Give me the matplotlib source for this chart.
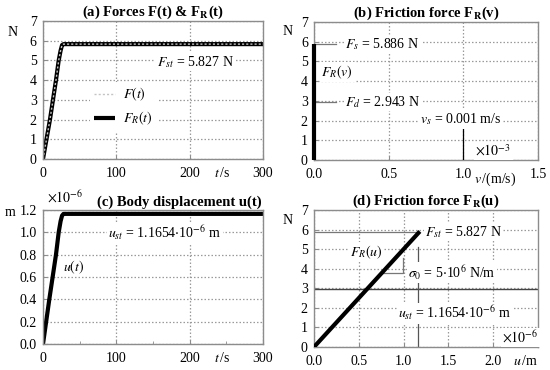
import matplotlib
matplotlib.use("Agg")
import matplotlib.pyplot as plt
import numpy as np

plt.rcParams['font.family'] = ['Liberation Serif', 'DejaVu Serif']
plt.rcParams['mathtext.fontset'] = 'stix'
plt.rcParams['font.size'] = 10

# ---- data ----
t_a = [0, 9.5, 17.7, 21.4, 24, 26, 28, 300]
F_a = [0, 2.0, 4.0, 5.0, 5.5, 5.78, 5.827, 5.827]
FR_a = [0, 2.0, 4.0, 5.0, 5.5, 5.78, 5.827, 5.827]

v_b = [0.0, 0.0]
FR_b = [0.0, 5.886]
Fs = 5.886
Fd = 2.943
vs = 0.001

t_c = [0, 8.6, 17.7, 21.4, 24, 26, 28, 300]
u_c = [0, 0.4e-6, 0.8e-6, 1.0e-6, 1.1e-6, 1.15e-6, 1.1654e-6, 1.1654e-6]

u_d = [0.0, 1.1654e-6]
FR_d = [0.0, 5.827]
Fst = 5.827
ust = 1.1654e-6

y_ticks_N = [0, 1, 2, 3, 4, 5, 6, 7]
t_ticks = [0, 100, 200, 300]
v_ticks = [0.0, 0.5, 1.0, 1.5]
u_ticks_c = [0.0, 0.2, 0.4, 0.6, 0.8, 1.0, 1.2]
u_ticks_d = [0.0, 0.5, 1.0, 1.5, 2.0]

TFS = 10.5   # title size
FS = 10      # text size

fig = plt.figure(figsize=(5.5, 3.7), dpi=100)
W, H = 550.0, 370.0
def pos(l, r, b, t):
    return [l / W, 1 - b / H, (r - l) / W, (b - t) / H]

axA = fig.add_axes(pos(43, 263, 159, 21))
axB = fig.add_axes(pos(314, 538, 160, 22))
axC = fig.add_axes(pos(43, 263, 344, 210))
axD = fig.add_axes(pos(314, 538, 347, 210))

gridkw = dict(color='#9a9a9a', linestyle=(0, (1.2, 1.6)), linewidth=0.9)
wbox = dict(facecolor='white', edgecolor='none', pad=1.0)

def style(ax):
    for s in ax.spines.values():
        s.set_color('#8c8c8c')
        s.set_linewidth(1.0)
    ax.tick_params(direction='in', length=3, color='#8c8c8c', labelsize=FS)
    ax.tick_params(axis='x', pad=5.5)
    ax.tick_params(axis='y', pad=4.5)
    ax.grid(True, **gridkw)
    ax.set_axisbelow(True)

# (a)
style(axA)
axA.plot(t_a, FR_a, color='black', lw=3.0, label=r'$F_R(t)$', solid_capstyle='butt')
axA.plot(t_a, F_a, color='#c4c4c4', lw=1.0, dashes=(1.5, 1.5), label=r'$F(t)$')
axA.set_xlim(0, 300)
axA.set_ylim(0, 7)
axA.set_xticks(t_ticks)
axA.set_yticks(y_ticks_N)
axA.set_title(r'(a) Forces F(t) & F$_\mathbf{R}$(t)', fontweight='bold', fontsize=TFS, pad=3)
axA.text(155, Fst - 0.9, r'$F_{st}$ = 5.827 N', va='center', ha='left', bbox=wbox, zorder=3, fontsize=FS)
h, l = axA.get_legend_handles_labels()
axA.legend([h[1], h[0]], [l[1], l[0]], loc='center left', bbox_to_anchor=(0.18, 0.38),
           frameon=True, fancybox=False, edgecolor='none', facecolor='white', framealpha=1,
           handlelength=1.5, handletextpad=0.6, fontsize=FS, borderpad=0.3, labelspacing=0.5)
axA.text(244, -0.05, r'$t\,$/s', transform=axA.get_xaxis_transform(), ha='center', va='top', fontsize=FS)
axA.text(-0.136, 0.92, 'N', transform=axA.transAxes, ha='center', va='center', fontsize=FS)

# (b)
style(axB)
vb_scaled = [v / 1e-3 for v in v_b]
axB.plot(vb_scaled, FR_b, color='black', lw=3.0, clip_on=False, solid_capstyle='butt', zorder=4)
axB.plot([0, 0.15], [Fs, Fs], color='#777777', lw=0.9, zorder=3)
axB.plot([0, 0.15], [Fd, Fd], color='#777777', lw=0.9, zorder=3)
axB.plot([vs / 1e-3, vs / 1e-3], [0, 1.6], color='black', lw=0.9, zorder=3)
axB.set_xlim(0, 1.5)
axB.set_ylim(0, 7)
axB.set_xticks(v_ticks)
axB.set_xticklabels(['0.0', '0.5', '1.0', '1.5'])
axB.set_yticks(y_ticks_N)
axB.set_title(r'(b) Friction force F$_\mathbf{R}$(v)', fontweight='bold', fontsize=TFS, pad=3)
axB.text(0.21, Fs, r'$F_s$ = 5.886 N', va='center', ha='left', bbox=wbox, zorder=3, fontsize=FS)
axB.text(0.21, Fd, r'$F_d$ = 2.943 N', va='center', ha='left', bbox=wbox, zorder=3, fontsize=FS)
axB.text(0.05, 4.45, r'$F_R(v)$', va='center', ha='left', bbox=wbox, zorder=3, fontsize=FS)
axB.text(0.71, 2.05, r'$v_s$ = 0.001 m/s', va='center', ha='left', bbox=wbox, zorder=3, fontsize=FS)
axB.text(1.08, 0.45, r'$\times10^{-3}$', va='center', ha='left', bbox=wbox, zorder=3, fontsize=FS)
axB.text(1.21, -0.075, r'$v\,$/(m/s)', transform=axB.get_xaxis_transform(), ha='center', va='top', fontsize=FS)
axB.text(-0.12, 0.93, 'N', transform=axB.transAxes, ha='center', va='center', fontsize=FS)

# (c)
style(axC)
axC.plot(t_c, [u / 1e-6 for u in u_c], color='black', lw=3.0)
axC.set_xlim(0, 300)
axC.set_ylim(0, 1.2)
axC.set_xticks(t_ticks)
axC.set_xticks([50, 150, 250], minor=True)
axC.tick_params(which='minor', direction='in', length=2, color='#8c8c8c')
axC.set_yticks(u_ticks_c)
axC.set_yticklabels(['%.1f' % v for v in u_ticks_c])
axC.set_title(r'(c) Body displacement u(t)', fontweight='bold', fontsize=TFS, pad=3, x=0.62)
axC.text(89, 1.0, r'$u_{st}$ = 1.1654$\cdot$10$^{-6}$ m', va='center', ha='left', bbox=wbox, zorder=3, fontsize=FS)
axC.text(27, 0.69, r'$u(t)$', va='center', ha='left', zorder=3, fontsize=FS)
axC.text(0.02, 1.03, r'$\times10^{-6}$', transform=axC.transAxes, ha='left', va='bottom', fontsize=FS)
axC.text(244, -0.05, r'$t\,$/s', transform=axC.get_xaxis_transform(), ha='center', va='top', fontsize=FS)
axC.text(-0.15, 0.985, 'm', transform=axC.transAxes, ha='center', va='center', fontsize=FS)

# (d)
style(axD)
ud_scaled = [u / 1e-6 for u in u_d]
axD.plot(ud_scaled, FR_d, color='black', lw=3.0, zorder=4)
axD.plot([0, ust / 1e-6], [Fs, Fs], color='#777777', lw=0.9, zorder=2)
axD.axhline(Fd, color='#444444', lw=1.0, zorder=2)
axD.plot([ust / 1e-6, ust / 1e-6], [0, 5.1], color='#555555', lw=0.9, zorder=2)
axD.plot([0.76, 0.99, 0.99], [3.8, 3.8, 4.55], color='#777777', lw=0.9, zorder=2)
axD.set_xlim(0, 2.5)
axD.set_ylim(0, 7)
axD.set_xticks(u_ticks_d)
axD.set_xticklabels(['%.1f' % v for v in u_ticks_d])
axD.set_yticks(y_ticks_N)
axD.set_title(r'(d) Friction force F$_\mathbf{R}$(u)', fontweight='bold', fontsize=TFS, pad=3)
axD.text(1.24, 5.87, r'$F_{st}$ = 5.827 N', va='center', ha='left', bbox=wbox, zorder=3, fontsize=FS)
axD.text(1.05, 3.8, r'$\sigma_0$ = 5$\cdot$10$^6$ N/m', va='center', ha='left', bbox=wbox, zorder=3, fontsize=FS)
axD.text(0.94, 1.73, r'$u_{st}$ = 1.1654$\cdot$10$^{-6}$ m', va='center', ha='left', bbox=wbox, zorder=3, fontsize=FS)
axD.text(0.4, 4.85, r'$F_R(u)$', va='center', ha='left', bbox=wbox, zorder=3, fontsize=FS)
axD.text(2.1, 0.5, r'$\times10^{-6}$', va='center', ha='left', bbox=wbox, zorder=3, fontsize=FS)
axD.text(2.36, -0.05, r'$u\,$/m', transform=axD.get_xaxis_transform(), ha='center', va='top', fontsize=FS)
axD.text(-0.12, 0.927, 'N', transform=axD.transAxes, ha='center', va='center', fontsize=FS)

fig.savefig('out.png', dpi=100)
